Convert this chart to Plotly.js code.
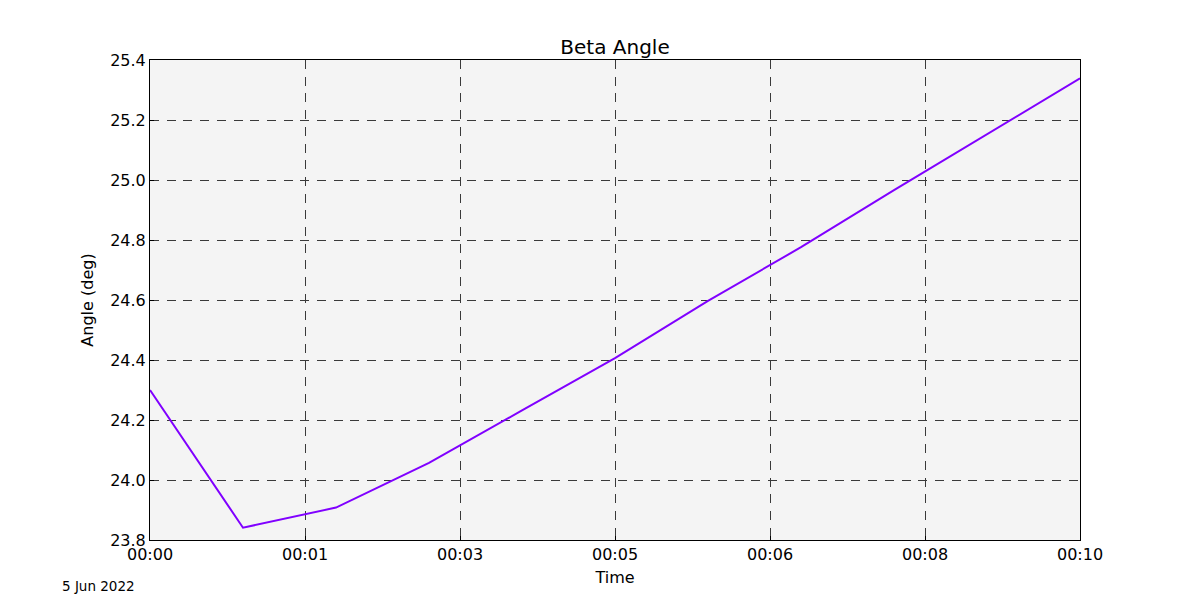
<!DOCTYPE html>
<html>
<head>
<meta charset="utf-8">
<script src="https://cdn.plot.ly/plotly-3.0.1.min.js"></script>
<style>html,body{margin:0;padding:0;background:#fff;}#chart{width:1200px;height:600px;}</style>
</head>
<body>
<div id="chart"></div>
<script>
// Time in seconds from 00:00, sampled every minute
var timeSeconds = [0, 60, 120, 180, 240, 300, 360, 420, 480, 540, 600];
var betaAngle = [24.30, 23.841, 23.908, 24.057, 24.232, 24.406, 24.597, 24.776, 24.966, 25.153, 25.339];
var xTickVals = [0, 100, 200, 300, 400, 500, 600];
var xTickText = ["00:00", "00:01", "00:03", "00:05", "00:06", "00:08", "00:10"];
var yTickVals = [23.8, 24.0, 24.2, 24.4, 24.6, 24.8, 25.0, 25.2, 25.4];
var yTickText = ["23.8", "24.0", "24.2", "24.4", "24.6", "24.8", "25.0", "25.2", "25.4"];
var dateLabel = "5 Jun 2022";

var font = "DejaVu Sans, sans-serif";
var trace = {
  x: timeSeconds, y: betaAngle, type: "scatter", mode: "lines",
  line: {color: "#8000ff", width: 2}, hoverinfo: "x+y"
};
var layout = {
  width: 1200, height: 600,
  margin: {l: 150, r: 120, t: 60, b: 60},
  paper_bgcolor: "#ffffff", plot_bgcolor: "#f4f4f4",
  showlegend: false,
  font: {family: font, size: 16, color: "#000"},
  title: {text: "Beta Angle", font: {family: font, size: 20, color: "#000"}, xref: "paper", x: 0.5, xanchor: "center", y: 0.922, yanchor: "middle"},
  xaxis: {
    range: [0, 600], tickmode: "array", tickvals: xTickVals, ticktext: xTickText,
    showgrid: true, gridcolor: "#3a3a3a", griddash: "9px,7.7px", gridwidth: 1,
    showline: true, linecolor: "#000", linewidth: 1, mirror: true,
    ticks: "inside", ticklen: 4, tickcolor: "#000", zeroline: false,
    tickfont: {family: font, size: 16, color: "#000"},
    title: {text: "Time", font: {family: font, size: 16, color: "#000"}, standoff: 8}
  },
  yaxis: {
    range: [23.8, 25.4], tickmode: "array", tickvals: yTickVals, ticktext: yTickText,
    showgrid: true, gridcolor: "#3a3a3a", griddash: "9px,7.7px", gridwidth: 1,
    showline: true, linecolor: "#000", linewidth: 1, mirror: true,
    ticks: "inside", ticklen: 4, tickcolor: "#000", zeroline: false,
    tickfont: {family: font, size: 16, color: "#000"},
    title: {text: "Angle (deg)", font: {family: font, size: 16, color: "#000"}, standoff: 12}
  },
  annotations: [{
    text: dateLabel, xref: "paper", yref: "paper", x: -0.0968, y: -0.0958,
    xanchor: "left", yanchor: "middle", showarrow: false,
    font: {family: font, size: 13.5, color: "#000"}
  }]
};
Plotly.newPlot("chart", [trace], layout, {displayModeBar: false, staticPlot: true});
</script>
</body>
</html>
